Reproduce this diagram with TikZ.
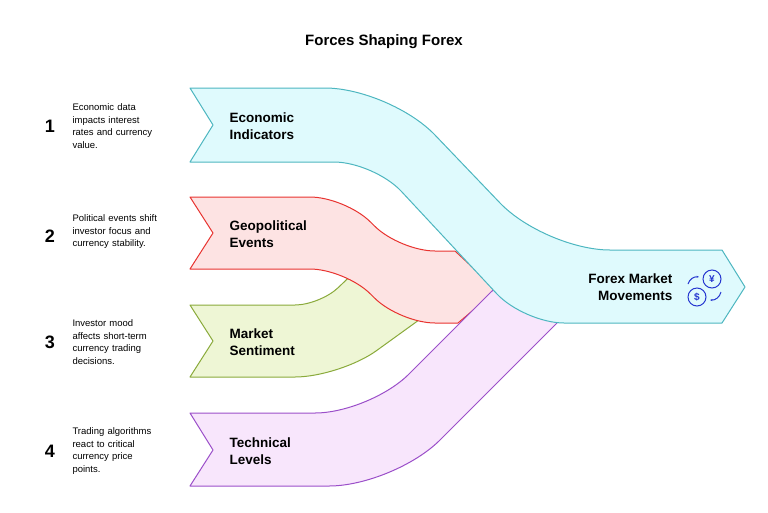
\documentclass[tikz,border=0pt]{standalone}
\usepackage{fontspec}
\setmainfont{Liberation Sans}
\usetikzlibrary{arrows.meta, positioning}
\definecolor{cyanfill}{HTML}{DFFAFD}\definecolor{cyanline}{HTML}{4DB6C0}
\definecolor{redfill}{HTML}{FDE3E3}\definecolor{redline}{HTML}{E8332F}
\definecolor{greenfill}{HTML}{EEF6D5}\definecolor{greenline}{HTML}{8AAA3B}
\definecolor{purplefill}{HTML}{F8E6FC}\definecolor{purpleline}{HTML}{9B4FC9}
\definecolor{iconblue}{HTML}{2536D0}
\begin{document}
\begin{tikzpicture}[%
  x=1pt, y=-1pt,
  >={Stealth[length=2.5pt]},
  band/.style={line width=1pt, line join=round},
  num/.style={font=\bfseries\fontsize{18}{18}\selectfont, text=black},
  desc/.style={font=\fontsize{9.5}{12.5}\selectfont, align=left, anchor=west, text width=100pt},
  lbl/.style={font=\bfseries\fontsize{13.5}{17}\selectfont, align=left, anchor=west}
]
  \useasboundingbox (0,0) rectangle (768,512);

  % Title
  \node[font=\bfseries\fontsize{15}{15}\selectfont] (title) at (384,42) {Forces Shaping Forex};

  % Bands
  \draw[band, draw=greenline, fill=greenfill]
    (190,305) [rounded corners=25] -- (320,305) -- (365,262) [sharp corners] -- (430,312)
    [rounded corners=45] -- (340,377) [sharp corners] -- (190,377) -- (213,341) -- cycle;
  \draw[band, draw=redline, fill=redfill]
    (190,197) [rounded corners=35] -- (345,197) -- (400,251) [sharp corners] -- (455,251)
    -- (497,290) -- (458,323) [rounded corners=35] -- (400,323) -- (345,269) [sharp corners]
    -- (190,269) -- (213,233) -- cycle;
  \draw[band, draw=purpleline, fill=purplefill]
    (190,413) [rounded corners=55] -- (370,413) -- (530,253) [sharp corners] -- (580,300)
    [rounded corners=65] -- (394,486) [sharp corners] -- (190,486) -- (213,450) -- cycle;
  \draw[band, draw=cyanline, fill=cyanfill]
    (190,88) [rounded corners=65] -- (390,88) -- (545,250) [sharp corners] -- (722,250)
    -- (745,287) -- (722,323) [rounded corners=40] -- (524,323) -- (374,162) [sharp corners]
    -- (190,162) -- (213,125) -- cycle;

  % Numbers and descriptions
  \node[num] (n1) at (50,126) {1};
  \node[num] (n2) at (50,236) {2};
  \node[num] (n3) at (50,342) {3};
  \node[num] (n4) at (50,451) {4};
  \node[desc] (d1) at (69,126) {Economic data\\impacts interest\\rates and currency\\value.};
  \node[desc] (d2) at (69,232) {Political events shift\\investor focus and\\currency stability.};
  \node[desc] (d3) at (69,342) {Investor mood\\affects short-term\\currency trading\\decisions.};
  \node[desc] (d4) at (69,451) {Trading algorithms\\react to critical\\currency price\\points.};

  % Band labels
  \node[lbl] (l1) at (226,126) {Economic\\Indicators};
  \node[lbl] (l2) at (226,234) {Geopolitical\\Events};
  \node[lbl] (l3) at (226,342) {Market\\Sentiment};
  \node[lbl] (l4) at (226,451) {Technical\\Levels};
  \node[lbl, align=right, anchor=east] (l5) at (676,287) {Forex Market\\Movements};

  % Icon
  \node[circle, draw=iconblue, line width=1pt, minimum size=18pt, inner sep=0pt,
        text=iconblue, font=\bfseries\fontsize{10}{10}\selectfont] (yen) at (712,279) {¥};
  \node[circle, draw=iconblue, line width=1pt, minimum size=18pt, inner sep=0pt,
        text=iconblue, font=\bfseries\fontsize{10}{10}\selectfont] (usd) at (697,297) {\$};
  \coordinate (a1s) at (688,284); \coordinate (a1e) at (699,277);
  \coordinate (a2s) at (721,292); \coordinate (a2e) at (710,300);
  \draw[->, iconblue, line width=1pt] (a1s) to[bend left=40] (a1e);
  \draw[->, iconblue, line width=1pt] (a2s) to[bend left=40] (a2e);
\end{tikzpicture}
\end{document}
